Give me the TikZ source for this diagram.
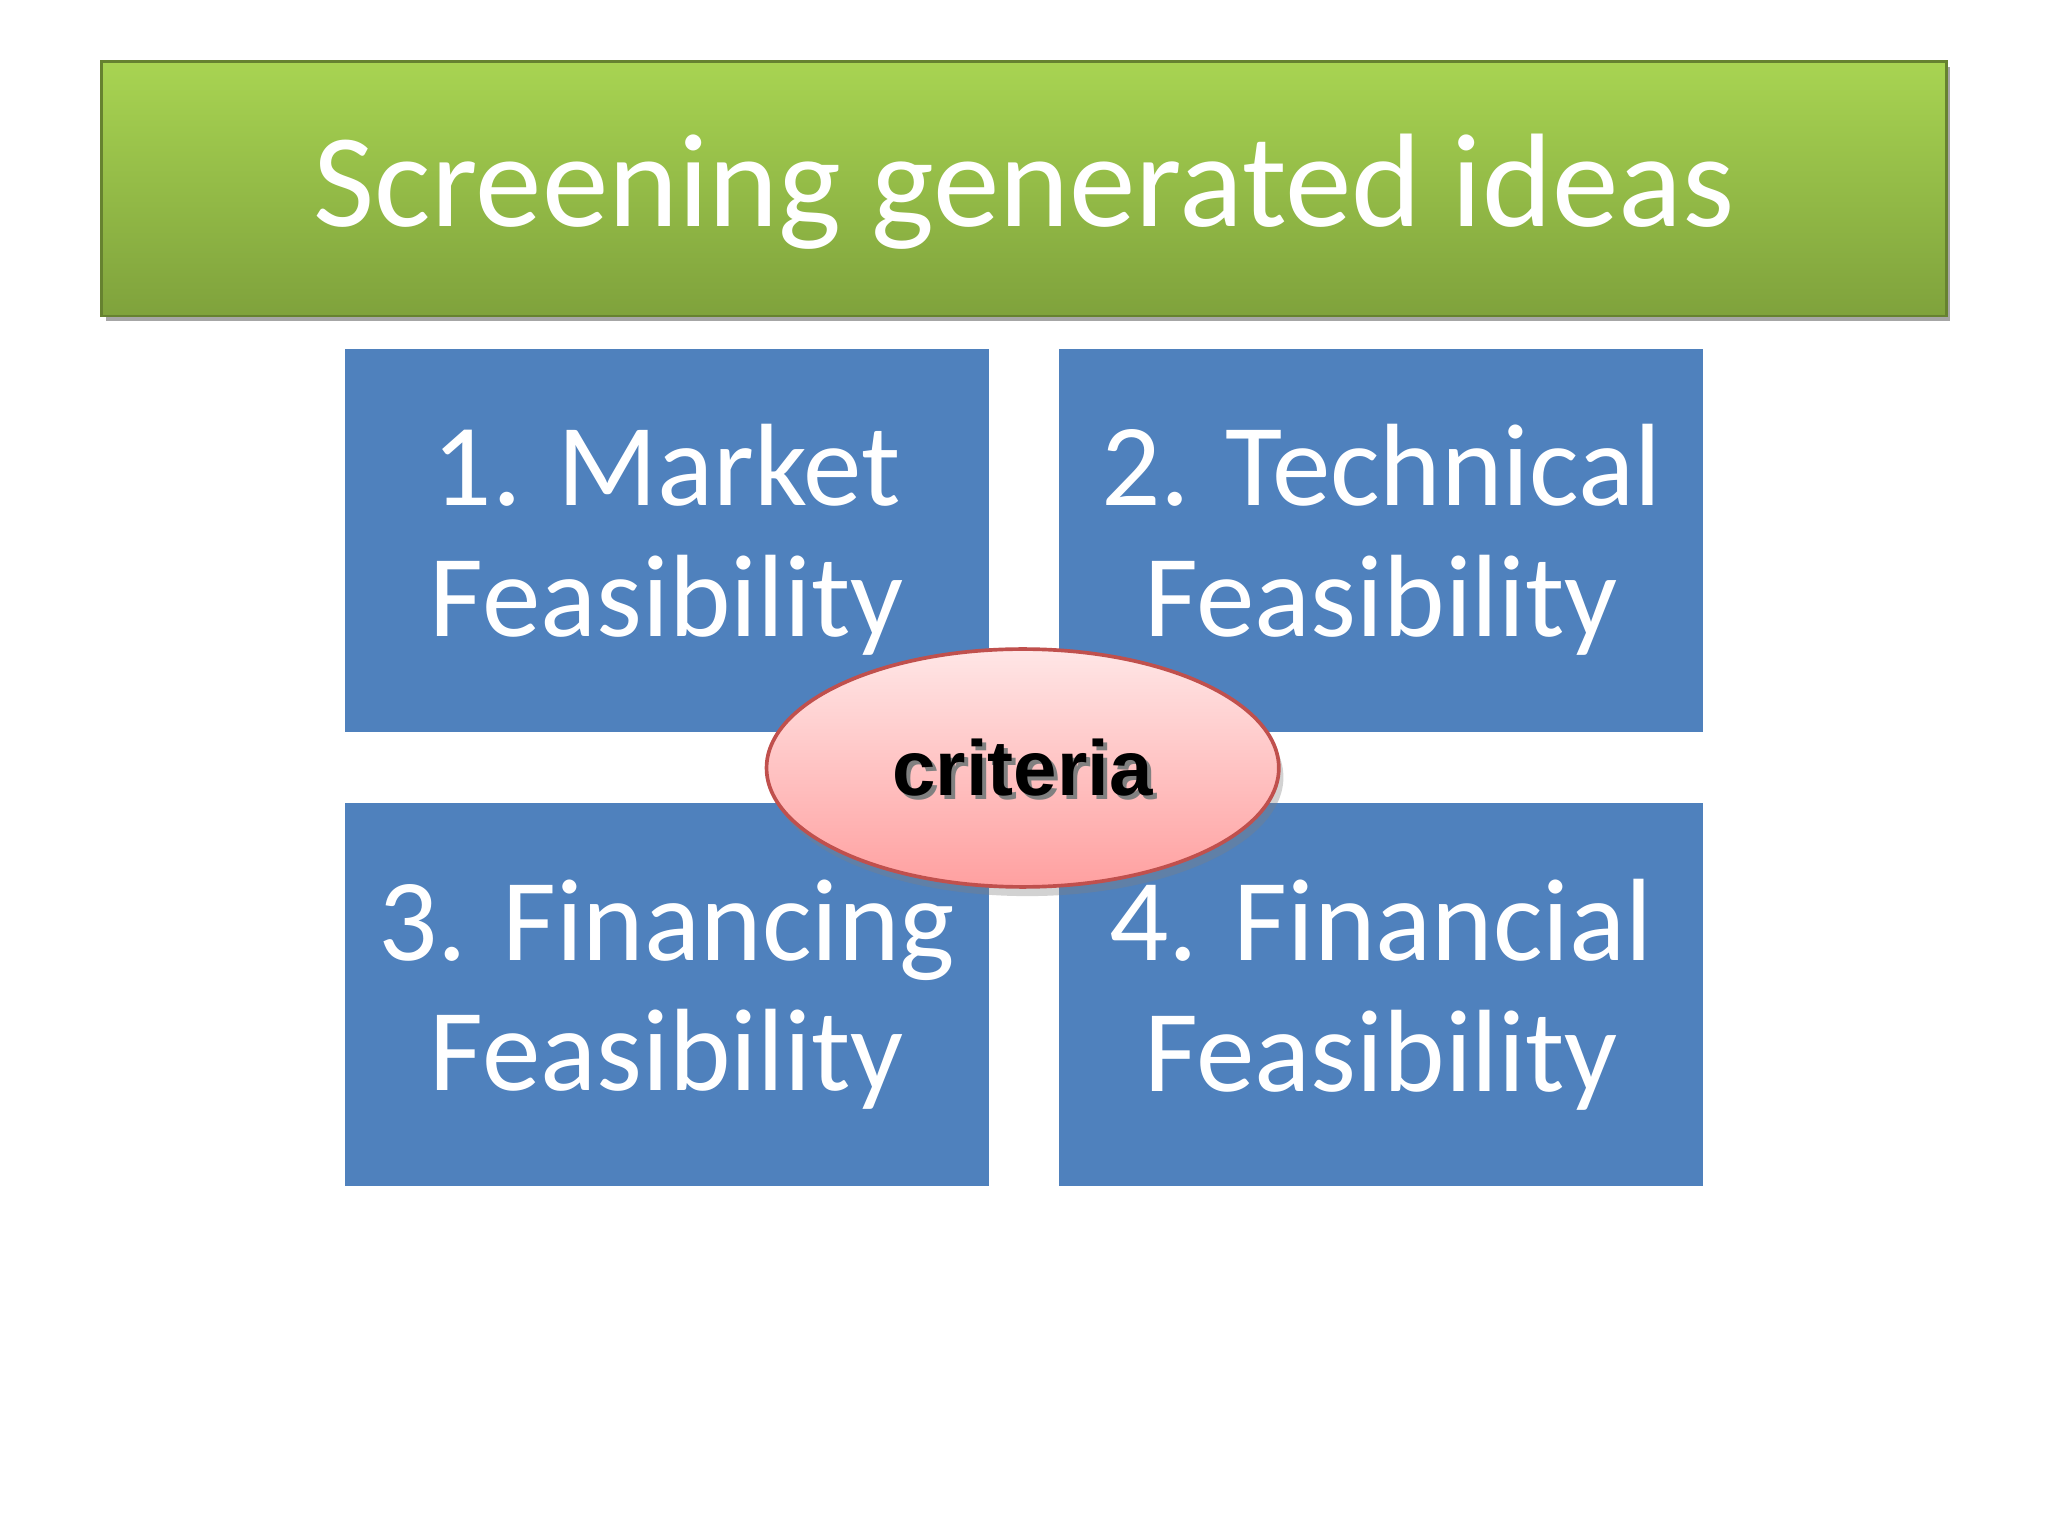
\documentclass[tikz,border=0pt]{standalone}
\usepackage{fontspec}
\setmainfont{Carlito}
\newfontfamily\critfont{Liberation Sans}
\usetikzlibrary{shapes.geometric,shadows}
\definecolor{boxblue}{HTML}{4F81BD}
\definecolor{gtop}{HTML}{A8D452}
\definecolor{gbot}{HTML}{7FA23C}
\definecolor{ptop}{HTML}{FFE6E6}
\definecolor{pbot}{HTML}{FFA0A0}
\definecolor{pborder}{HTML}{C0504D}
\tikzset{
  fbox/.style={fill=boxblue,draw=none,minimum width=4.93cm,minimum height=2.93cm,text=white,align=center,font=\fontsize{25.5pt}{28.5pt}\selectfont,inner sep=0pt},
}
\begin{document}
\begin{tikzpicture}[x=0.01cm,y=-0.01cm]
\useasboundingbox (0,0) rectangle (1568,1176);
\fill[white] (0,0) rectangle (1568,1176);
\fill[black!35] (81,51) rectangle (1493,246);
\shade[top color=gtop,bottom color=gbot,draw=gbot!80!black,line width=0.6pt] (78,47) rectangle (1490,242);
\node[text=white,font=\fontsize{29pt}{32pt}\selectfont] (title) at (784,147) {Screening generated ideas};
\node[fbox] (b1) at (510.5,413.5) {1. Market\\Feasibility};
\node[fbox] (b2) at (1057.5,413.5) {2. Technical\\Feasibility};
\node[fbox] (b3) at (510.5,761.5) {3. Financing\\Feasibility};
\node[fbox] (b4) at (1057.5,761.5) {4. Financial\\Feasibility};
\node[ellipse,minimum width=3.92cm,minimum height=1.82cm,top color=ptop,bottom color=pbot,draw=pborder,line width=0.8pt,drop shadow={shadow xshift=1pt,shadow yshift=-2pt,opacity=0.35}] (crit) at (783,588) {};
\node[text=black!50,font=\critfont\bfseries\fontsize{17pt}{20pt}\selectfont] at (786,591) {criteria};
\node[text=black,font=\critfont\bfseries\fontsize{17pt}{20pt}\selectfont] (ct) at (783,588) {criteria};
\end{tikzpicture}
\end{document}
